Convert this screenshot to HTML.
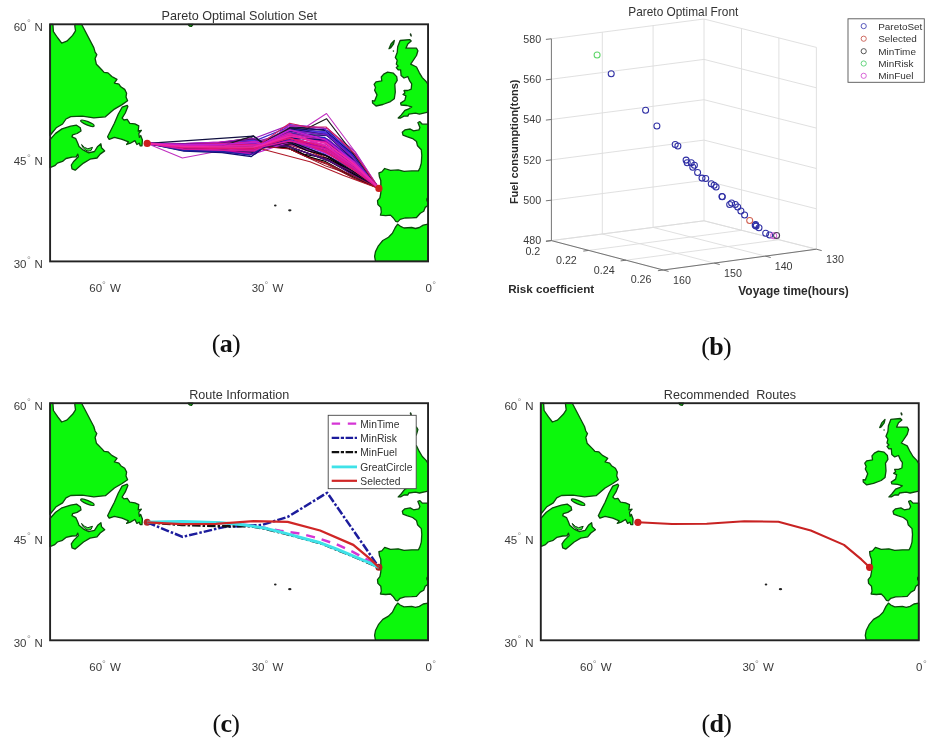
<!DOCTYPE html>
<html><head><meta charset="utf-8"><title>Pareto routes</title>
<style>
html,body{margin:0;padding:0;background:#fff;}
svg{display:block;filter:blur(0.45px);}
text{font-family:"Liberation Sans",sans-serif;fill:#3a3a3a;}
.ax text{font-size:11.5px;}
.ax text.deg{font-size:9.5px;fill:#8a8a8a;}
.tt{font-size:12.6px;fill:#333;}
.ttb{font-size:11.85px;fill:#333;}
.axb text{font-size:10.7px;}
.lg{font-size:10.3px;fill:#333;}
.lgb{font-size:9.95px;fill:#333;}
.bl{font-size:11.65px;font-weight:bold;fill:#2a2a2a;}
.cap{font-family:"Liberation Serif",serif;font-size:26px;fill:#111;letter-spacing:-0.7px;}
</style></head><body>
<svg width="934" height="749" viewBox="0 0 934 749">
<rect width="934" height="749" fill="#fff"/>
<defs>
<g id="map">
<rect x="50.1" y="24.3" width="377.95" height="237.10" fill="#fff"/>
<g fill="#0cf80c" stroke="#0b4a0b" stroke-width="1.3" stroke-linejoin="round">
<polygon points="50.0,24.3 53.0,24.3 53.0,25.8 53.4,31.6 57.8,38.0 61.7,43.1 66.8,41.2 72.6,35.4 75.5,30.9 74.8,25.8 75.0,24.3 81.6,24.3 93.8,47.6 95.1,52.1 96.8,54.7 95.1,58.5 96.4,64.3 101.5,69.5 104.1,72.4 108.0,72.9 111.8,76.5 117.0,79.4 114.4,83.0 118.9,84.2 120.8,86.8 124.7,89.4 126.6,93.2 126.0,97.1 127.6,100.8 122.1,104.6 114.4,109.1 105.4,116.8 93.8,117.9 82.3,116.2 70.7,116.6 66.0,119.0 62.6,124.0 56.2,127.8 51.2,134.0 50.0,135.6"/>
<polygon points="50.0,139.6 55.6,133.4 62.0,128.9 70.7,126.2 76.5,125.2 80.3,127.8 81.0,131.0 77.1,133.5 72.6,134.8 72.0,136.8 75.8,138.7 77.8,143.2 79.0,146.4 83.5,150.2 88.7,152.8 94.5,151.5 97.7,146.4 100.9,143.8 101.5,147.7 104.7,150.9 100.2,154.1 97.0,158.0 90.0,159.2 83.5,163.1 79.7,166.3 75.2,170.2 72.0,168.9 71.3,165.0 73.9,161.2 78.4,156.7 77.8,154.2 76.2,156.9 72.0,157.1 66.0,158.5 62.5,161.4 57.4,163.1 54.8,165.7 50.5,167.4 50.0,167.6"/>
<polygon points="127.2,105.3 122.1,107.2 118.2,114.3 114.4,123.3 110.5,131.0 107.6,136.8 109.2,139.3 114.4,137.4 122.1,139.3 128.5,141.9 126.6,144.5 130.4,143.2 134.9,140.6 136.9,144.5 139.4,143.2 140.1,145.8 142.0,145.8 142.4,140.0 140.7,135.5 139.4,137.4 138.8,133.5 141.4,130.3 138.2,131.0 138.8,125.8 134.9,123.9 129.8,123.3 127.2,119.4 124.0,120.0 122.1,118.1 125.3,113.0 127.9,106.6"/>
<polygon points="400.1,40.5 409.7,39.6 411.2,41.0 407.8,43.9 405.9,48.2 416.5,48.2 417.9,50.7 416.5,55.5 410.7,64.1 416.5,67.0 419.4,72.8 422.3,77.6 426.1,81.5 428.0,84.4 428.0,112.2 419.4,114.1 415.5,113.2 408.8,114.1 407.8,116.1 404.0,116.1 400.6,118.0 398.2,118.0 401.1,115.1 404.9,110.3 408.8,108.8 411.7,106.9 406.9,105.5 401.1,105.0 400.6,103.1 404.9,100.2 405.9,95.8 403.0,94.4 404.9,92.9 404.0,90.5 407.8,90.5 411.2,89.1 411.7,83.8 409.7,80.9 407.8,76.6 404.0,78.0 401.1,75.6 400.6,69.8 398.2,69.9 396.3,67.5 398.2,66.1 396.3,64.1 397.2,60.3 395.3,57.4 397.2,52.6 397.7,46.8"/>
<polygon points="387.6,72.2 393.4,73.2 396.7,76.6 397.2,80.4 394.8,84.3 395.3,92.0 394.3,98.7 390.5,101.6 382.8,104.5 376.0,106.0 372.6,103.1 372.4,100.7 374.6,101.1 377.0,94.9 374.6,90.1 375.5,87.6 374.1,84.3 376.0,81.9 381.8,80.9 381.3,77.0 383.7,74.2"/>
<polygon points="389.0,48.7 391.0,44.0 394.3,40.5 393.5,44.0 390.5,48.0"/>
<polygon points="428.0,124.2 422.3,124.2 419.9,121.7 417.9,122.5 419.9,127.5 418.9,129.9 413.6,130.9 410.2,129.0 404.9,129.9 402.3,132.3 403.0,135.2 406.9,136.7 412.6,138.6 416.5,141.5 417.5,145.8 421.3,149.7 421.8,155.5 421.3,163.2 419.9,168.0 418.4,170.9 411.7,170.9 404.0,171.4 398.2,169.9 390.5,170.4 384.7,168.5 381.8,171.9 378.9,172.8 379.4,176.7 380.8,180.5 380.8,186.3 380.8,192.9 379.9,197.8 377.5,200.7 377.9,204.5 380.8,207.4 381.3,212.2 380.4,215.1 385.7,215.6 390.5,215.1 393.4,218.0 395.8,221.4 397.7,221.9 400.1,219.4 404.9,218.0 411.7,217.8 416.5,217.5 420.3,213.2 423.7,211.3 425.2,207.4 428.0,205.5"/>
<polygon points="397.7,224.2 395.3,227.5 392.4,233.3 388.5,237.2 382.8,240.5 378.4,245.8 375.5,251.6 374.6,256.4 375.5,261.4 428.0,261.4 428.0,224.2 423.2,225.1 419.4,227.5 415.5,228.5 411.7,227.5 404.0,228.0 400.1,226.1"/>
<polygon points="188.0,24.3 189.5,26.0 191.5,26.4 193.0,24.3"/>
<ellipse cx="87.4" cy="123.3" rx="7.2" ry="1.7" transform="rotate(22 87.4 123.3)"/>
</g>
<polygon points="81.6,144.5 84.5,147.4 87.8,148.8 92.5,147.4 91,150.6 88,151.2 85.3,149.9 82.6,147" fill="#3cf03c" stroke="#0b3a0b" stroke-width="1" stroke-linejoin="round"/>
<ellipse cx="410.8" cy="35" rx="0.9" ry="1.8" fill="#1a3a1a" transform="rotate(-20 410.8 35)"/>
<circle cx="393.4" cy="51.1" r="0.8" fill="#1a5a1a"/>
<ellipse cx="275.3" cy="205.6" rx="1.3" ry="1" fill="#222"/>
<ellipse cx="289.8" cy="210.3" rx="1.7" ry="1.1" fill="#222"/>
<ellipse cx="427.3" cy="199.7" rx="1" ry="2.2" fill="#0a3a0a"/>
<rect x="50.1" y="24.3" width="377.95" height="237.10" fill="none" stroke="#222" stroke-width="1.9"/>
<g class="ax">
<text x="13.7" y="30.7">60</text><text class="deg" x="26.9" y="26.2">°</text><text x="34.6" y="30.7">N</text>
<text x="13.7" y="165.1">45</text><text class="deg" x="26.9" y="160.6">°</text><text x="34.6" y="165.1">N</text>
<text x="13.7" y="267.9">30</text><text class="deg" x="26.9" y="263.4">°</text><text x="34.6" y="267.9">N</text>
<text x="89.3" y="292.4">60</text><text class="deg" x="102.0" y="287.8">°</text><text x="110.0" y="292.4">W</text>
<text x="251.7" y="292.4">30</text><text class="deg" x="264.4" y="287.8">°</text><text x="272.4" y="292.4">W</text>
<text x="425.4" y="292.4">0</text><text class="deg" x="432.2" y="287.8">°</text>
</g>
</g>
</defs>
<g id="pa">
<use href="#map"/>
<text class="tt" x="239.3" y="19.8" text-anchor="middle">Pareto Optimal Solution Set</text>
<g fill="none" stroke-linejoin="round">
<polyline points="147.2,143.4 184.6,149.3 215.7,148.9 254.3,150.4 261.9,147.9 290.5,131.2 310.3,133.1 328.5,133.3 355.3,157.2 378.9,188.4" stroke="#7020b0" stroke-width="1.25"/>
<polyline points="147.2,143.4 182.2,145.1 221.1,144.9 250.1,141.6 261.4,143.9 289.5,137.5 323.6,146.2 354.6,165.6 378.9,188.4" stroke="#a020b0" stroke-width="1.25"/>
<polyline points="147.2,143.4 183.2,148.2 215.5,146.9 255.3,149.2 261.3,146.3 288.2,148.4 304.0,155.8 326.9,164.4 354.2,178.5 378.9,188.4" stroke="#a01020" stroke-width="1.0"/>
<polyline points="147.2,143.4 184.9,144.9 218.5,144.9 252.0,141.7 261.7,144.0 292.5,146.0 308.7,151.0 323.8,157.9 355.3,173.9 378.9,188.4" stroke="#a01020" stroke-width="1.1"/>
<polyline points="147.2,143.4 184.4,149.5 218.8,151.9 255.0,153.8 262.7,148.3 292.1,144.8 310.6,150.4 326.6,158.0 353.1,172.0 378.9,188.4" stroke="#a01020" stroke-width="1.1"/>
<polyline points="147.2,143.4 180.3,143.7 215.2,143.5 251.4,137.7 262.5,142.5 290.8,144.1 328.8,156.8 352.8,171.5 378.9,188.4" stroke="#000000" stroke-width="1.1"/>
<polyline points="147.2,143.4 185.1,143.5 218.8,142.1 253.0,139.6 263.8,142.6 290.2,137.0 306.3,142.0 326.4,144.4 354.9,164.1 378.9,188.4" stroke="#e020b0" stroke-width="1.25"/>
<polyline points="147.2,143.4 179.6,147.7 221.8,146.8 252.7,148.8 260.8,145.1 290.1,137.2 327.8,149.2 355.4,167.1 378.9,188.4" stroke="#e0207a" stroke-width="1.25"/>
<polyline points="147.2,143.4 183.9,144.7 222.6,144.4 254.3,141.2 287.6,127.5 309.4,132.1 324.1,132.2 355.3,156.9 378.9,188.4" stroke="#4020d0" stroke-width="1.25"/>
<polyline points="147.2,143.4 183.3,147.3 220.5,146.4 251.9,147.6 262.9,145.4 291.8,135.4 324.5,145.5 352.2,163.0 378.9,188.4" stroke="#a018a8" stroke-width="1.25"/>
<polyline points="147.2,143.4 179.9,144.7 219.7,145.0 250.2,140.2 260.9,143.0 291.3,131.4 305.5,133.9 324.0,137.6 353.2,159.3 378.9,188.4" stroke="#7020b0" stroke-width="1.25"/>
<polyline points="147.2,143.4 185.4,143.7 221.2,142.4 254.9,140.3 260.8,142.0 291.1,128.1 326.7,132.9 354.5,155.6 378.9,188.4" stroke="#5030e0" stroke-width="1.25"/>
<polyline points="147.2,143.4 182.3,149.4 217.5,149.2 253.6,152.0 261.2,146.9 287.4,145.9 304.4,154.4 327.4,158.3 355.9,173.5 378.9,188.4" stroke="#000000" stroke-width="1.1"/>
<polyline points="147.2,143.4 185.3,146.0 218.9,145.5 254.3,144.5 289.5,133.2 328.1,139.5 355.3,161.4 378.9,188.4" stroke="#7020b0" stroke-width="1.25"/>
<polyline points="147.2,143.4 181.4,147.9 220.0,147.4 254.4,148.4 261.0,145.7 290.2,140.4 307.3,146.5 324.0,150.2 354.5,169.1 378.9,188.4" stroke="#8020c0" stroke-width="1.25"/>
<polyline points="147.2,143.4 180.9,145.4 215.6,145.8 252.4,144.6 263.8,144.9 287.0,147.9 325.8,166.0 353.6,175.5 378.9,188.4" stroke="#901020" stroke-width="1.0"/>
<polyline points="147.2,143.4 182.2,146.6 218.9,145.8 255.2,143.5 263.6,145.2 288.5,146.5 328.6,160.7 355.8,176.6 378.9,188.4" stroke="#50107a" stroke-width="1.1"/>
<polyline points="147.2,143.4 183.4,144.8 222.3,143.9 252.6,142.3 291.1,132.7 329.0,139.9 352.9,162.8 378.9,188.4" stroke="#9020b0" stroke-width="1.25"/>
<polyline points="147.2,143.4 181.9,144.6 215.1,142.9 254.1,141.8 287.7,139.5 326.0,150.3 352.8,166.2 378.9,188.4" stroke="#e01878" stroke-width="1.25"/>
<polyline points="147.2,143.4 183.0,146.7 222.3,147.4 252.1,146.2 263.6,144.9 291.7,139.3 311.1,144.7 323.5,150.2 353.7,169.5 378.9,188.4" stroke="#8020c0" stroke-width="1.25"/>
<polyline points="147.2,143.4 183.4,145.2 220.4,144.5 255.8,144.1 261.6,144.6 291.1,126.4 325.9,130.0 355.4,154.7 378.9,188.4" stroke="#8020c0" stroke-width="1.25"/>
<polyline points="147.2,143.4 184.7,149.4 221.3,151.0 253.4,153.3 262.3,147.7 287.5,145.9 328.3,159.9 353.6,174.2 378.9,188.4" stroke="#50107a" stroke-width="1.1"/>
<polyline points="147.2,143.4 185.0,147.2 219.1,147.5 251.1,147.5 263.2,144.8 288.8,148.6 327.2,163.8 355.9,179.2 378.9,188.4" stroke="#901020" stroke-width="1.0"/>
<polyline points="147.2,143.4 184.6,143.7 219.7,142.2 253.3,138.4 260.4,142.3 287.2,133.2 310.5,136.4 327.3,139.0 355.6,160.2 378.9,188.4" stroke="#b020c0" stroke-width="1.25"/>
<polyline points="147.2,143.4 185.3,149.2 219.6,149.0 253.2,152.1 260.1,148.1 290.1,141.3 326.4,152.8 354.8,168.3 378.9,188.4" stroke="#8020c0" stroke-width="1.25"/>
<polyline points="147.2,143.4 182.1,148.5 219.6,148.7 254.5,149.2 263.3,146.4 288.0,141.9 324.5,154.0 355.8,171.0 378.9,188.4" stroke="#2020c0" stroke-width="1.25"/>
<polyline points="147.2,143.4 185.1,145.5 220.7,145.2 253.4,140.3 263.1,142.9 289.9,126.8 304.7,130.7 324.6,131.7 353.8,155.7 378.9,188.4" stroke="#5030e0" stroke-width="1.25"/>
<polyline points="147.2,143.4 180.3,148.6 216.0,149.4 253.0,151.0 263.4,146.5 290.7,136.0 324.1,142.2 353.0,164.7 378.9,188.4" stroke="#8020c0" stroke-width="1.25"/>
<polyline points="147.2,143.4 184.8,145.8 217.7,144.8 255.7,142.6 260.2,144.8 291.8,130.5 326.1,135.1 356.0,159.3 378.9,188.4" stroke="#5030e0" stroke-width="1.25"/>
<polyline points="147.2,143.4 179.6,148.3 215.3,148.2 252.5,149.3 288.3,143.6 304.3,148.8 327.1,155.9 353.9,172.0 378.9,188.4" stroke="#9020b0" stroke-width="1.25"/>
<polyline points="147.2,143.4 182.9,147.2 217.1,148.1 256.0,148.1 260.5,146.1 288.7,127.6 308.6,129.8 324.1,129.4 352.3,153.0 378.9,188.4" stroke="#101060" stroke-width="1.25"/>
<polyline points="147.2,143.4 183.8,147.4 218.4,146.8 250.9,147.6 289.3,130.7 307.4,134.6 328.8,135.6 353.2,158.5 378.9,188.4" stroke="#101060" stroke-width="1.25"/>
<polyline points="147.2,143.4 185.0,145.1 215.1,144.3 252.7,141.7 261.5,144.2 287.8,146.1 328.9,161.1 354.8,174.7 378.9,188.4" stroke="#000000" stroke-width="1.1"/>
<polyline points="147.2,143.4 181.7,145.1 217.9,144.4 252.3,141.6 263.2,143.9 292.0,133.1 310.1,138.0 324.7,137.4 354.1,161.1 378.9,188.4" stroke="#2020c0" stroke-width="1.25"/>
<polyline points="147.2,143.4 182.7,148.0 216.8,149.6 253.2,151.9 264.0,146.0 292.1,143.8 307.3,150.7 325.3,155.2 352.8,172.3 378.9,188.4" stroke="#000000" stroke-width="1.1"/>
<polyline points="147.2,143.4 182.7,146.6 219.1,146.0 250.5,144.5 287.7,146.0 325.9,160.0 353.5,172.1 378.9,188.4" stroke="#50107a" stroke-width="1.1"/>
<polyline points="147.2,143.4 183.3,146.1 216.9,146.6 254.0,143.7 262.3,144.5 289.3,139.5 327.2,148.3 355.9,164.5 378.9,188.4" stroke="#2020c0" stroke-width="1.25"/>
<polyline points="147.2,143.4 179.6,147.4 217.7,148.0 250.6,147.9 263.2,146.5 290.7,126.4 328.4,131.0 353.4,155.5 378.9,188.4" stroke="#101060" stroke-width="1.25"/>
<polyline points="147.2,143.4 183.2,149.0 218.9,148.2 250.7,149.7 261.1,147.0 290.5,138.2 323.5,147.8 353.6,167.1 378.9,188.4" stroke="#c000a0" stroke-width="1.25"/>
<polyline points="147.2,143.4 185.3,149.3 223.0,148.7 251.1,153.8 262.3,146.3 287.9,148.0 308.9,156.7 325.3,161.4 352.8,176.6 378.9,188.4" stroke="#000000" stroke-width="1.1"/>
<polyline points="147.2,143.4 181.3,146.2 221.2,147.4 255.1,146.8 287.9,129.2 327.5,134.8 355.0,157.0 378.9,188.4" stroke="#4020d0" stroke-width="1.25"/>
<polyline points="147.2,143.4 185.5,149.2 221.0,151.2 255.4,153.7 263.1,146.9 289.5,124.6 323.7,128.2 353.3,152.9 378.9,188.4" stroke="#5030e0" stroke-width="1.25"/>
<polyline points="147.2,143.4 184.9,149.2 217.0,149.7 255.2,152.2 260.6,148.1 291.9,129.0 326.7,135.1 352.2,158.4 378.9,188.4" stroke="#101060" stroke-width="1.25"/>
<polyline points="147.2,143.4 184.3,149.5 217.0,150.3 252.0,154.4 292.5,141.1 307.4,145.4 324.6,152.8 355.9,167.6 378.9,188.4" stroke="#c020d0" stroke-width="1.25"/>
<polyline points="147.2,143.4 180.1,146.5 215.6,144.6 253.4,144.4 261.2,145.1 287.5,133.2 323.5,140.4 354.9,162.6 378.9,188.4" stroke="#d01050" stroke-width="1.25"/>
<polyline points="147.2,143.4 180.2,144.9 217.6,143.5 252.5,139.0 288.8,125.4 307.0,126.6 327.7,128.7 355.5,152.3 378.9,188.4" stroke="#a020c0" stroke-width="1.25"/>
<polyline points="147.2,143.4 184.7,144.8 218.6,144.4 255.0,141.4 263.0,143.0 287.9,133.5 326.6,141.0 355.0,163.5 378.9,188.4" stroke="#c020d0" stroke-width="1.25"/>
<polyline points="147.2,143.4 180.2,143.9 217.0,143.5 252.3,139.0 289.9,147.2 328.9,160.1 353.9,175.6 378.9,188.4" stroke="#50107a" stroke-width="1.1"/>
<polyline points="147.2,143.4 185.2,147.4 217.5,146.5 253.3,147.9 260.3,144.4 287.8,129.9 327.5,135.1 352.5,157.3 378.9,188.4" stroke="#8020c0" stroke-width="1.25"/>
<polyline points="147.2,143.4 185.4,147.0 219.8,145.6 253.7,145.9 260.2,145.1 287.7,135.6 325.7,142.9 354.3,163.5 378.9,188.4" stroke="#a018a8" stroke-width="1.25"/>
<polyline points="147.2,143.4 181.5,147.8 215.1,148.0 255.5,148.2 260.0,146.1 289.9,149.1 308.1,157.6 327.6,163.4 353.5,176.2 378.9,188.4" stroke="#a01020" stroke-width="1.0"/>
<polyline points="147.2,143.4 183.0,144.7 221.1,143.6 250.7,142.3 263.7,142.8 289.0,138.3 307.5,142.4 324.2,146.3 355.2,165.6 378.9,188.4" stroke="#e01878" stroke-width="1.25"/>
<polyline points="147.2,143.4 184.8,149.0 215.5,149.7 252.6,153.5 262.2,146.7 287.5,135.3 326.8,141.7 353.9,161.9 378.9,188.4" stroke="#c000a0" stroke-width="1.25"/>
<polyline points="147.2,143.4 184.8,147.7 222.6,147.2 253.9,146.7 263.3,145.9 291.3,142.0 328.9,156.8 354.1,171.8 378.9,188.4" stroke="#0a0a0a" stroke-width="1.1"/>
<polyline points="147.2,143.4 182.4,158.0 222.0,150.5 253.0,147.0 262.0,145.0 290.0,126.0 307.0,126.2 326.5,113.5 353.4,149.5 378.9,188.4" stroke="#c030c0" stroke-width="1.1"/>
<polyline points="147.2,143.4 183.0,147.0 222.0,146.0 253.4,135.7 262.0,143.0 290.0,128.0 308.0,128.0 326.5,118.7 352.0,152.0 378.9,188.4" stroke="#181818" stroke-width="1.1"/>
<polyline points="147.2,143.4 253.4,136.2 262.0,142.0" stroke="#101040" stroke-width="1.2"/>
<polyline points="147.2,143.4 184.0,151.0 222.0,152.5 251.3,156.6 263.0,148.0 290.0,138.0 326.0,140.0 352.0,165.0 378.9,188.4" stroke="#101070" stroke-width="1.3"/>
<polyline points="147.2,143.4 184.0,150.5 222.0,151.5 250.0,155.0 263.0,147.0" stroke="#2020a0" stroke-width="1.3"/>
<polyline points="147.2,143.4 184.0,146.0 222.0,147.0 258.0,148.0 310.0,161.8 343.0,175.3 378.9,188.4" stroke="#b01828" stroke-width="1.1"/>
<polyline points="147.2,143.4 184.0,147.0 222.0,148.0 256.0,147.0 289.7,123.2 307.0,127.0 326.0,127.0 354.0,153.0 378.9,188.4" stroke="#d02060" stroke-width="1.1"/>
<polyline points="147.2,143.4 183.0,145.5 220.0,146.0 254.0,145.0 262.0,145.0 290.0,134.0 326.0,146.0 354.0,166.0 378.9,188.4" stroke="#e020b0" stroke-width="1.7"/>
<polyline points="147.2,143.4 183.0,147.5 220.0,148.5 254.0,149.0 263.0,145.5 290.0,138.0 326.0,152.0 354.0,170.0 378.9,188.4" stroke="#e01878" stroke-width="1.7"/>
<polyline points="147.2,143.4 183.0,144.5 220.0,144.5 254.0,142.5 262.0,144.0 290.0,130.0 326.0,140.0 354.0,162.0 378.9,188.4" stroke="#c020d0" stroke-width="1.7"/>
<polyline points="147.2,143.4 183.0,149.0 220.0,150.0 254.0,151.0 263.0,146.5 290.0,141.0 326.0,149.0 354.0,168.0 378.9,188.4" stroke="#d818a0" stroke-width="1.7"/>
<polyline points="147.2,143.4 183.0,146.5 220.0,147.0 254.0,147.0 262.0,145.0 290.0,136.0 326.0,143.0 354.0,164.0 378.9,188.4" stroke="#f028a8" stroke-width="1.7"/>
</g>
<circle cx="147.2" cy="143.4" r="3.6" fill="#cc1f1f"/><circle cx="378.9" cy="188.4" r="3.6" fill="#cc1f1f"/>
</g>
<g id="pb">
<path d="M551.4 240.6L704.0 220.8M704.0 220.8L816.4 249.2M551.4 200.2L704.0 180.4M704.0 180.4L816.4 208.8M551.4 159.9L704.0 140.1M704.0 140.1L816.4 168.5M551.4 119.5L704.0 99.7M704.0 99.7L816.4 128.1M551.4 79.2L704.0 59.4M704.0 59.4L816.4 87.8M551.4 38.8L704.0 19.0M704.0 19.0L816.4 47.4M602.3 234.0L602.3 32.2M741.5 230.3L741.5 28.5M653.1 227.4L653.1 25.6M778.9 239.7L778.9 37.9M704.0 220.8L704.0 19.0M816.4 249.2L816.4 47.4M551.4 240.6L704.0 220.8M663.3 270.0L551.4 240.6M588.7 250.4L741.5 230.3M714.3 263.1L602.3 234.0M626.0 260.2L778.9 239.7M765.4 256.1L653.1 227.4M663.3 270.0L816.4 249.2M816.4 249.2L704.0 220.8" fill="none" stroke="#dcdcdc" stroke-width="0.9"/>
<path d="M551.4 240.6L551.4 38.8M551.4 240.6L663.3 270.0M663.3 270.0L816.4 249.2M551.4 240.6L545.9 241.2M551.4 200.2L545.9 200.8M551.4 159.9L545.9 160.5M551.4 119.5L545.9 120.1M551.4 79.2L545.9 79.8M551.4 38.8L545.9 39.4M551.4 240.6L546.0 241.3M588.7 250.4L583.3 251.1M626.0 260.2L620.6 260.9M663.3 270.0L657.9 270.7M663.3 270.0L668.6 271.4M714.3 263.1L719.7 264.5M765.4 256.1L770.7 257.5M816.4 249.2L821.7 250.6" fill="none" stroke="#6e6e6e" stroke-width="0.95"/>
<g class="axb">
<text x="541.2" y="244.3" text-anchor="end">480</text>
<text x="541.2" y="203.9" text-anchor="end">500</text>
<text x="541.2" y="163.6" text-anchor="end">520</text>
<text x="541.2" y="123.2" text-anchor="end">540</text>
<text x="541.2" y="82.9" text-anchor="end">560</text>
<text x="541.2" y="42.5" text-anchor="end">580</text>
<text x="525.4" y="254.8">0.2</text>
<text x="556" y="264.0">0.22</text>
<text x="593.8" y="273.6">0.24</text>
<text x="630.7" y="283.0">0.26</text>
<text x="673" y="284.0">160</text>
<text x="724" y="277.2">150</text>
<text x="774.7" y="270.1">140</text>
<text x="826" y="263.0">130</text>
</g>
<text class="bl" x="508.2" y="293">Risk coefficient</text>
<text class="bl" style="font-size:11.95px" x="738.3" y="295.3">Voyage time(hours)</text>
<text class="bl" style="font-size:10.95px" text-anchor="middle" transform="translate(517.5 141.8) rotate(-90)">Fuel consumption(tons)</text>
<text class="ttb" x="683.3" y="15.6" text-anchor="middle">Pareto Optimal Front</text>
<g fill="none" stroke-width="1.05">
<circle cx="611.2" cy="73.7" r="3" stroke="#2e2ea4"/>
<circle cx="645.6" cy="110.2" r="3" stroke="#2e2ea4"/>
<circle cx="656.9" cy="126" r="3" stroke="#2e2ea4"/>
<circle cx="675.2" cy="144.4" r="3" stroke="#2e2ea4"/>
<circle cx="677.9" cy="146" r="3" stroke="#2e2ea4"/>
<circle cx="686.1" cy="160.1" r="3" stroke="#2e2ea4"/>
<circle cx="687.2" cy="162.8" r="3" stroke="#2e2ea4"/>
<circle cx="691.2" cy="162.8" r="3" stroke="#2e2ea4"/>
<circle cx="694.4" cy="165.2" r="3" stroke="#2e2ea4"/>
<circle cx="692.8" cy="167.2" r="3" stroke="#2e2ea4"/>
<circle cx="697.6" cy="172.4" r="3" stroke="#2e2ea4"/>
<circle cx="702" cy="178.1" r="3" stroke="#2e2ea4"/>
<circle cx="705.7" cy="178.5" r="3" stroke="#2e2ea4"/>
<circle cx="711.3" cy="183.7" r="3" stroke="#2e2ea4"/>
<circle cx="714.1" cy="185.3" r="3" stroke="#2e2ea4"/>
<circle cx="716.1" cy="186.9" r="3" stroke="#2e2ea4"/>
<circle cx="722" cy="196.5" r="3" stroke="#2e2ea4"/>
<circle cx="722.3" cy="196.8" r="3" stroke="#2e2ea4"/>
<circle cx="729.7" cy="204.5" r="3" stroke="#2e2ea4"/>
<circle cx="731.6" cy="202.9" r="3" stroke="#2e2ea4"/>
<circle cx="735.3" cy="204.5" r="3" stroke="#2e2ea4"/>
<circle cx="737.7" cy="206.9" r="3" stroke="#2e2ea4"/>
<circle cx="740.9" cy="210.9" r="3" stroke="#2e2ea4"/>
<circle cx="744.6" cy="214.9" r="3" stroke="#2e2ea4"/>
<circle cx="755.6" cy="224.5" r="3" stroke="#2e2ea4"/>
<circle cx="756.1" cy="226.1" r="3" stroke="#2e2ea4"/>
<circle cx="755.2" cy="225.2" r="3" stroke="#2e2ea4"/>
<circle cx="759" cy="227.7" r="3" stroke="#2e2ea4"/>
<circle cx="765.7" cy="233.3" r="3" stroke="#2e2ea4"/>
<circle cx="769.7" cy="234.9" r="3" stroke="#2e2ea4"/>
<circle cx="597.1" cy="54.9" r="3" stroke="#5fd66a"/>
<circle cx="749.7" cy="220.5" r="3" stroke="#d06050"/>
<circle cx="773.7" cy="235.7" r="3" stroke="#d860d8"/>
<circle cx="776.6" cy="235.4" r="3" stroke="#4a3a5a"/>
</g>
<rect x="848" y="18.8" width="76.3" height="63.5" fill="#fff" stroke="#555" stroke-width="0.9"/>
<circle cx="863.7" cy="26.1" r="2.6" fill="none" stroke="#4646b4" stroke-width="0.9"/><text class="lgb" x="878.2" y="29.6">ParetoSet</text>
<circle cx="863.7" cy="38.7" r="2.6" fill="none" stroke="#c85a50" stroke-width="0.9"/><text class="lgb" x="878.2" y="42.2">Selected</text>
<circle cx="863.7" cy="51.2" r="2.6" fill="none" stroke="#444" stroke-width="0.9"/><text class="lgb" x="878.2" y="54.7">MinTime</text>
<circle cx="863.7" cy="63.5" r="2.6" fill="none" stroke="#55d070" stroke-width="0.9"/><text class="lgb" x="878.2" y="67.0">MinRisk</text>
<circle cx="863.7" cy="75.8" r="2.6" fill="none" stroke="#d455d4" stroke-width="0.9"/><text class="lgb" x="878.2" y="79.3">MinFuel</text>
</g>
<g id="pc" transform="translate(0 378.9)">
<use href="#map"/>
<text class="tt" x="239.3" y="19.8" text-anchor="middle">Route Information</text>
<circle cx="147.2" cy="143.4" r="3.5" fill="#b52a2a"/><circle cx="378.9" cy="188.4" r="3.5" fill="#a82424"/>
<g fill="none" stroke-linejoin="round">
<polyline points="147.2,143.4 182.0,143.2 218.0,144.0 250.0,146.3 280.3,151.8 300.0,154.6 317.1,159.0 336.4,165.4 352.4,172.7 368.5,181.5 378.9,188.4" stroke="#d535d5" stroke-width="2.5" stroke-dasharray="9 7"/>
<polyline points="147.2,143.4 182.5,158.0 224.0,148.1 262.0,146.1 288.0,137.9 327.2,113.8 378.9,188.4" stroke="#1c1c9c" stroke-width="2.5" stroke-dasharray="8.5 2 2.5 2"/>
<polyline points="147.2,143.4 182.0,146.1 218.0,147.3 250.0,147.3 264.0,149.6 285.7,155.0 320.3,164.3 352.4,177.2 378.9,188.4" stroke="#111" stroke-width="2.5" stroke-dasharray="8.5 2 2.5 2"/>
<polyline points="147.2,143.4 165.0,142.8 182.0,142.6 200.0,143.1 221.4,143.8 242.8,145.9 264.2,149.1 285.7,154.5 304.2,159.6 320.3,163.9 336.4,170.1 352.4,176.7 368.5,183.4 378.9,188.4" stroke="#3fe2e8" stroke-width="3"/>
<polyline points="147.2,143.4 181.3,145.2 216.0,144.9 253.6,142.3 287.7,142.9 320.1,151.6 353.3,166.0 370.7,180.5 378.9,188.4" stroke="#d02626" stroke-width="2.3"/>
</g>
<rect x="328.2" y="36.4" width="88.0" height="73.4" fill="#fff" stroke="#444" stroke-width="0.9"/>
<line x1="331.7" y1="44.8" x2="357" y2="44.8" stroke="#d535d5" stroke-width="2.3" stroke-dasharray="8.4 7.7"/>
<text class="lg" x="360.3" y="49.0">MinTime</text>
<line x1="331.7" y1="58.9" x2="357" y2="58.9" stroke="#1c1c9c" stroke-width="2.3" stroke-dasharray="7.5 1.6 3.2 1.6"/>
<text class="lg" x="360.3" y="63.1">MinRisk</text>
<line x1="331.7" y1="73.3" x2="357" y2="73.3" stroke="#111" stroke-width="2.3" stroke-dasharray="7.5 1.6 3.2 1.6"/>
<text class="lg" x="360.3" y="77.5">MinFuel</text>
<line x1="331.7" y1="88.0" x2="357" y2="88.0" stroke="#3fe2e8" stroke-width="2.8"/>
<text class="lg" x="360.3" y="92.2">GreatCircle</text>
<line x1="331.7" y1="101.9" x2="357" y2="101.9" stroke="#d02626" stroke-width="2.2"/>
<text class="lg" x="360.3" y="106.1">Selected</text>
</g>
<g id="pd" transform="translate(490.7 378.9)">
<use href="#map"/>
<text class="tt" x="239.3" y="19.8" text-anchor="middle">Recommended&#160; Routes</text>
<polyline points="147.2,143.4 181.3,145.2 216.0,144.9 253.6,142.3 287.7,142.9 320.1,151.6 353.3,166.0 370.7,180.5 378.9,188.4" fill="none" stroke="#c82222" stroke-width="2.05" stroke-linejoin="round"/>
<circle cx="147.2" cy="143.4" r="3.6" fill="#cc1f1f"/><circle cx="378.9" cy="188.4" r="3.6" fill="#cc1f1f"/>
</g>
<text class="cap" x="225.8" y="352.4" text-anchor="middle">(<tspan font-weight="bold">a</tspan>)</text>
<text class="cap" x="716.1" y="355.0" text-anchor="middle">(<tspan font-weight="bold">b</tspan>)</text>
<text class="cap" x="225.8" y="731.7" text-anchor="middle">(<tspan font-weight="bold">c</tspan>)</text>
<text class="cap" x="716.4" y="731.7" text-anchor="middle">(<tspan font-weight="bold">d</tspan>)</text>
</svg>
</body></html>
